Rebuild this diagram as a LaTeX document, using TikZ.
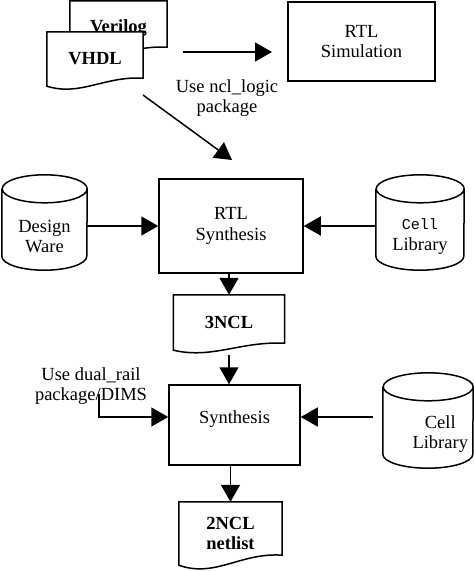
\documentclass[tikz,border=0pt]{standalone}
\usepackage{fontspec}
\setmainfont{Liberation Serif}
\setmonofont{Liberation Mono}
\usepackage{tikz}
\usetikzlibrary{arrows.meta}
\usetikzlibrary{positioning}
\usetikzlibrary{calc}
\tikzstyle{edge}=[line width=1.5pt,-{Triangle[length=17pt,width=19pt]}]
% document symbol: straight top, wavy bottom (#2 = rise of the right corner)
\newcommand\docoutline[2]{%
  \draw[line width=1.5pt]
    (#1.south west) -- (#1.north west) -- (#1.north east) -- ($(#1.south east)+(0,-#2)$)
    .. controls ($(#1.south east)!0.4!(#1.south west)+(0,-1.3*#2)$)
    and ($(#1.south east)!0.65!(#1.south west)+(0,1.3*#2)$) .. (#1.south west) -- cycle;}
% data base drum round a node (#2 = x radius)
\newcommand\drumoutline[2]{%
  \draw[line width=1.5pt]
    ([yshift=14pt]#1.north west) -- ([yshift=14pt]#1.south west)
    arc[start angle=180,end angle=360,x radius=#2pt,y radius=14pt]
    -- ([yshift=14pt]#1.north east)
    arc[start angle=0,end angle=180,x radius=#2pt,y radius=14pt]
    arc[start angle=180,end angle=360,x radius=#2pt,y radius=14pt];}

\begin{document}
\begin{tikzpicture}[
  x=1pt,y=-1pt,
  font=\fontsize{18.5}{20.5}\selectfont,
  box/.style={draw,line width=1.5pt,align=center,inner sep=0},
  doc/.style={inner sep=0,align=center,font=\fontsize{18.5}{20.5}\selectfont\bfseries},
  drum/.style={inner sep=0,align=center},
  note/.style={align=center,inner sep=0},
]
\useasboundingbox (0,0) rectangle (474,571);

% HDL sources
\node[doc,minimum width=97pt,minimum height=54pt] (verilog) at (118.5,28) {Verilog};
\docoutline{verilog}{8}
\node[doc,fill=white,minimum width=96pt,minimum height=54pt] (vhdl) at (95,59) {VHDL};
\docoutline{vhdl}{8}

\node[box,minimum width=147pt,minimum height=79pt] (rtlsim) at (361.5,41.5) {RTL\\Simulation};
\coordinate (hdlout) at (183,52);
\coordinate (simin) at (272,52);
\draw[edge] (hdlout) -- (simin);

\node[note] (ncllogic) at (227,98) {Use ncl\_logic\\package};
\coordinate (hdldown) at (143,95);
\coordinate (synin) at (232,160);
\draw[edge] (hdldown) -- (synin);

% RTL synthesis
\node[box,minimum width=144pt,minimum height=94pt] (rtlsyn) at (231,226) {RTL\\Synthesis};
\node[drum,minimum width=85pt,minimum height=67pt] (dware) at (44.5,236.5) {Design\\Ware};
\drumoutline{dware}{42.5}
\node[drum,minimum width=88pt,minimum height=67pt] (celllib) at (420,236.5) {{\fontsize{15}{20.5}\ttfamily Cell}\\Library};
\drumoutline{celllib}{44}
\draw[edge] (dware.east |- rtlsyn.west) -- (rtlsyn.west);
\draw[edge] (celllib.west |- rtlsyn.east) -- (rtlsyn.east);

\node[doc,minimum width=111pt,minimum height=55pt] (ncl3) at (229,322.5) {3NCL};
\docoutline{ncl3}{7}
\draw[edge] (rtlsyn.south -| ncl3.north) -- (ncl3.north);

% dual rail synthesis
\node[box,minimum width=131pt,minimum height=80pt,text depth=16pt] (synth) at (234.5,425) {Synthesis};
\draw[edge] ([yshift=-5pt]ncl3.south) -- (ncl3.south |- synth.north);

\node[note] (dualrail) at (91,386) {Use dual\_rail\\package/DIMS};
\coordinate (railin) at (99,394);
\draw[edge] (railin) |- ([yshift=8pt]synth.west);

\node[drum,minimum width=90pt,minimum height=67pt,text width=80pt,align=right] (celllibb) at (428,434.5) {\begin{tabular}{@{}c@{}}Cell\\Library\end{tabular}};
\drumoutline{celllibb}{45}
\coordinate (libout) at (373,417);
\draw[edge] (libout) -- ([yshift=8pt]synth.east);

\node[doc,minimum width=103pt,minimum height=63pt] (ncl2) at (230.5,533.5) {2NCL\\netlist};
\docoutline{ncl2}{10}
\draw[edge] (synth.south -| ncl2.north) -- (ncl2.north);
\end{tikzpicture}
\end{document}
